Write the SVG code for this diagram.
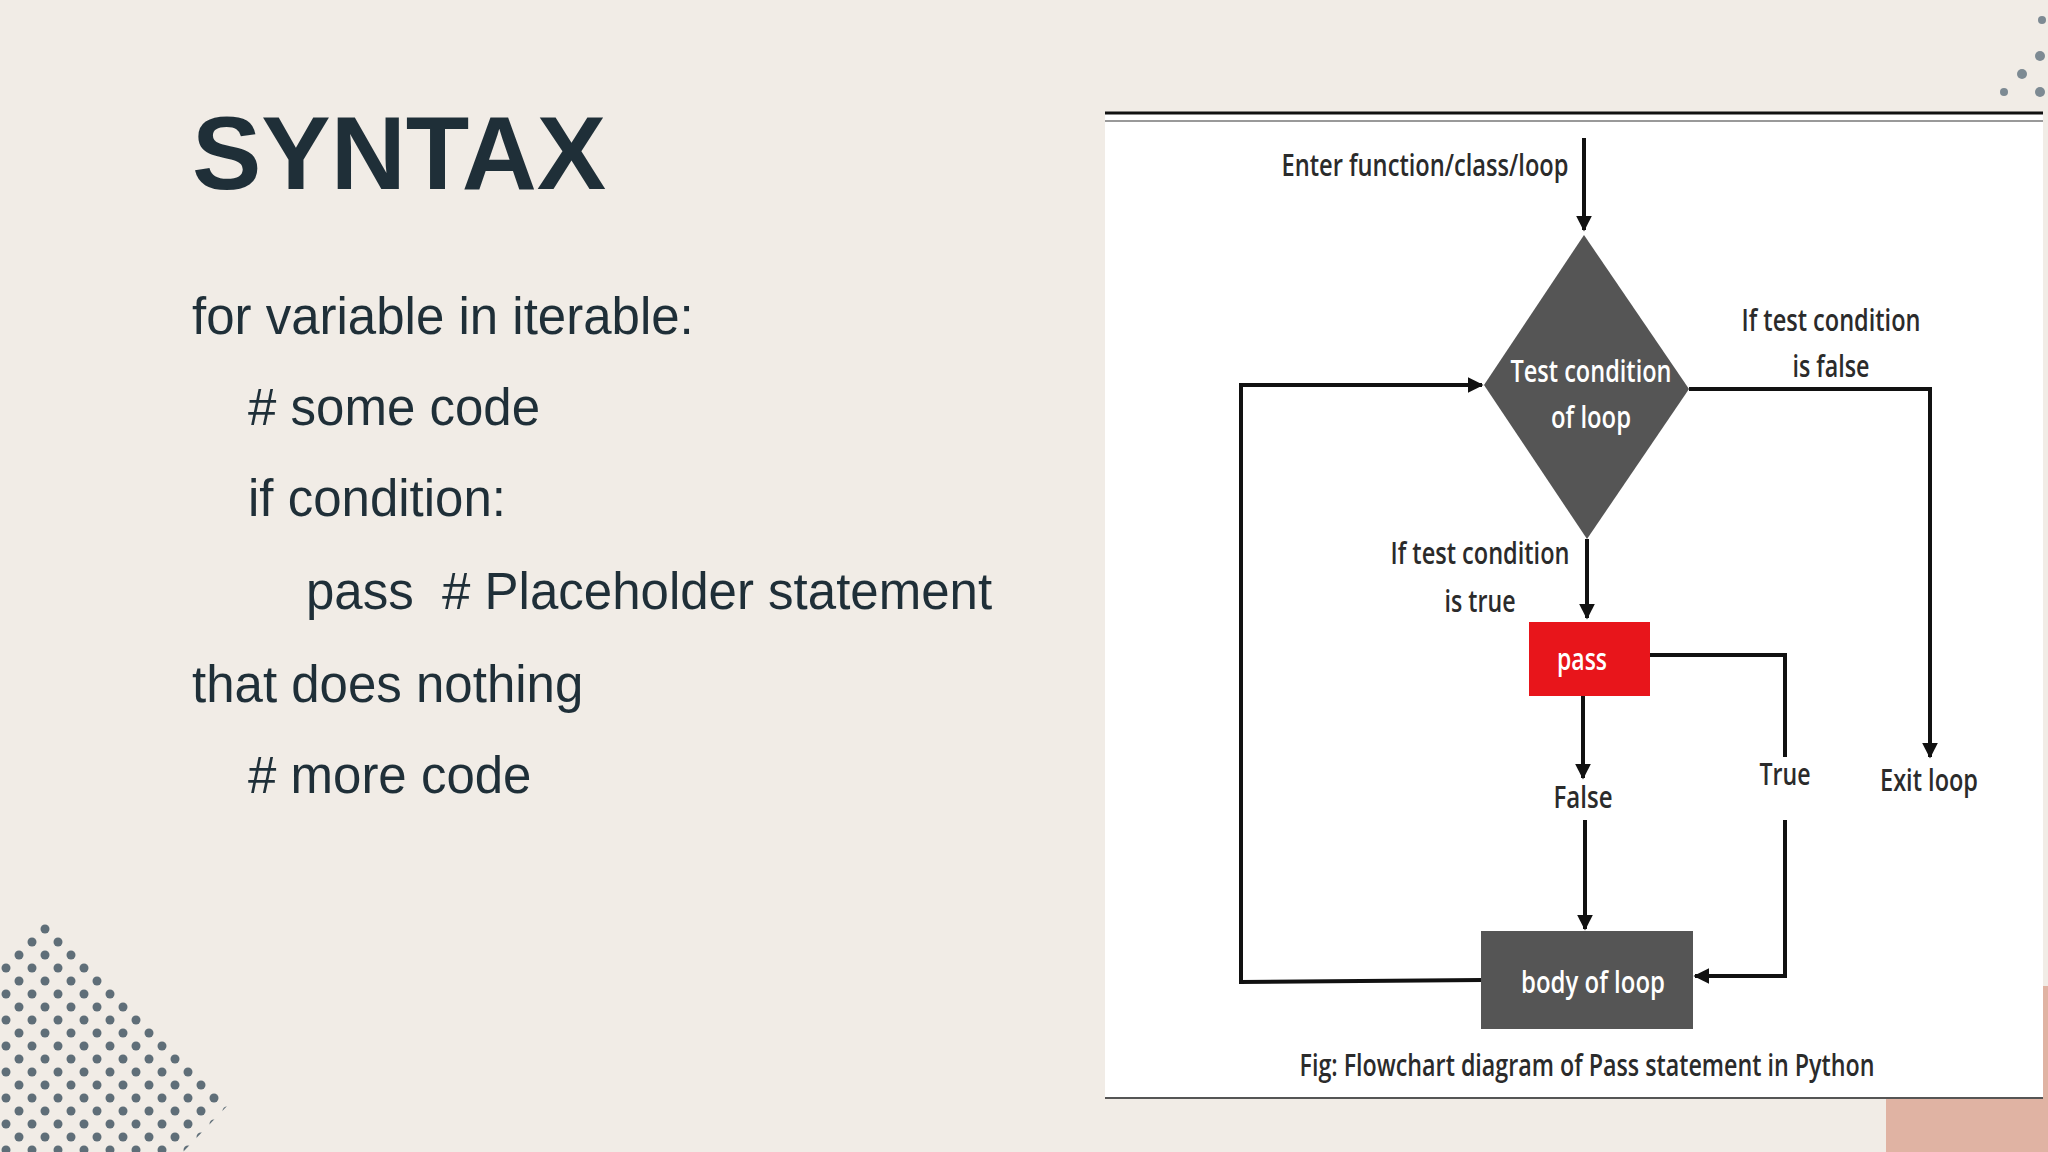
<svg xmlns="http://www.w3.org/2000/svg" width="2048" height="1152" viewBox="0 0 2048 1152">
<style>
.code{font-family:"Liberation Sans",Arial,sans-serif;font-size:51px;fill:#1f2f38}
.fc{font-family:"Open Sans","Liberation Sans",sans-serif;font-weight:600;font-size:31px;text-anchor:middle;fill:#2b2b2b}
.wt{fill:#fff}
.ln{fill:none;stroke:#111;stroke-width:4}
</style>
<defs>
<marker id="ah" viewBox="0 0 10 10" refX="9" refY="5" markerWidth="4" markerHeight="4" orient="auto"><path d="M0,0 L10,5 L0,10 z" fill="#111"/></marker>
<pattern id="dots" width="26" height="26" patternUnits="userSpaceOnUse"><circle cx="6" cy="6" r="4.5" fill="#5f6e78"/><circle cx="19" cy="19" r="4.5" fill="#5f6e78"/></pattern>
</defs>
<rect width="2048" height="1152" fill="#f1ece6"/>
<polygon points="46,921 229,1104 183,1152 0,1152 0,953" fill="url(#dots)"/>
<g fill="#7d8a93"><circle cx="2040" cy="56" r="5"/><circle cx="2022" cy="74" r="5"/><circle cx="2040" cy="92" r="5"/><circle cx="2004" cy="92" r="4"/><circle cx="2042" cy="20" r="4"/></g>
<rect x="1886" y="1098" width="162" height="54" fill="#e0b3a3"/>
<rect x="2043" y="986" width="5" height="112" fill="#e0b3a3"/>
<text x="192" y="189" font-family="Liberation Sans,Arial,sans-serif" font-weight="bold" font-size="104" fill="#1f2f38">SYNTAX</text>
<text class="code" x="192" y="334">for variable in iterable:</text>
<text class="code" x="248" y="425"># some code</text>
<text class="code" x="248" y="516">if condition:</text>
<text class="code" x="306" y="609" xml:space="preserve">pass  # Placeholder statement</text>
<text class="code" x="192" y="702">that does nothing</text>
<text class="code" x="248" y="793"># more code</text>
<rect x="1105" y="113" width="938" height="985" fill="#fff"/>
<line x1="1105" y1="113" x2="2043" y2="113" stroke="#111" stroke-width="3"/>
<line x1="1105" y1="121" x2="2043" y2="121" stroke="#999" stroke-width="2"/>
<line x1="1105" y1="1098" x2="2043" y2="1098" stroke="#555" stroke-width="2"/>
<g id="connectors">
<path class="ln" d="M1584,138 V230" marker-end="url(#ah)"/>
<path class="ln" d="M1689,389 H1930 V757" marker-end="url(#ah)"/>
<path class="ln" d="M1587,539 V618" marker-end="url(#ah)"/>
<path class="ln" d="M1583,696 V778" marker-end="url(#ah)"/>
<path class="ln" d="M1585,820 V929" marker-end="url(#ah)"/>
<path class="ln" d="M1650,655 H1785 V757 M1785,820 V976 H1695" marker-end="url(#ah)"/>
<path class="ln" d="M1482,980 L1241,982 V385 H1482" marker-end="url(#ah)"/>
</g>
<g id="enter"><text class="fc" x="1425" y="176" textLength="287" lengthAdjust="spacingAndGlyphs">Enter function/class/loop</text></g>
<g id="test"><polygon points="1584,235 1689,389 1587,539 1484,385" fill="#555"/>
<text class="fc wt" x="1591" y="382" textLength="161" lengthAdjust="spacingAndGlyphs">Test condition</text><text class="fc wt" x="1591" y="428" textLength="80" lengthAdjust="spacingAndGlyphs">of loop</text></g>
<g id="lblfalse"><text class="fc" x="1831" y="331" textLength="179" lengthAdjust="spacingAndGlyphs">If test condition</text><text class="fc" x="1831" y="377" textLength="77" lengthAdjust="spacingAndGlyphs">is false</text></g>
<g id="exit"><text class="fc" x="1929" y="791" textLength="98" lengthAdjust="spacingAndGlyphs">Exit loop</text></g>
<g id="lbltrue"><text class="fc" x="1480" y="564" textLength="179" lengthAdjust="spacingAndGlyphs">If test condition</text><text class="fc" x="1480" y="612" textLength="71" lengthAdjust="spacingAndGlyphs">is true</text></g>
<g id="pass"><rect x="1529" y="622" width="121" height="74" fill="#e8151b"/><text class="fc wt" x="1582" y="670" textLength="50" lengthAdjust="spacingAndGlyphs">pass</text></g>
<g id="false"><text class="fc" x="1583" y="808" textLength="59" lengthAdjust="spacingAndGlyphs">False</text></g>
<g id="true"><text class="fc" x="1785" y="785" textLength="51" lengthAdjust="spacingAndGlyphs">True</text></g>
<g id="body"><rect x="1481" y="931" width="212" height="98" fill="#555"/><text class="fc wt" x="1593" y="993" textLength="144" lengthAdjust="spacingAndGlyphs">body of loop</text></g>
<text class="fc" x="1587" y="1076" textLength="575" lengthAdjust="spacingAndGlyphs">Fig: Flowchart diagram of Pass statement in Python</text>
</svg>
